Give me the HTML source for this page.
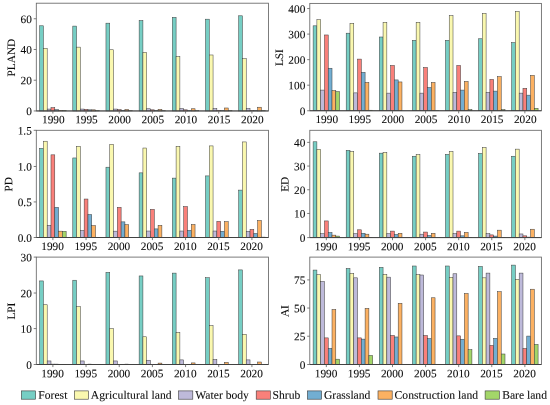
<!DOCTYPE html>
<html><head><meta charset="utf-8"><title>Landscape metrics</title>
<style>html,body{margin:0;padding:0;background:#fff}svg{display:block}</style></head>
<body>
<svg width="550" height="405" viewBox="0 0 550 405" font-family="'Liberation Serif', 'Times New Roman', serif" font-size="11.3" fill="#0a0a0a"><style>text{stroke:#0a0a0a;stroke-width:0.08px;text-rendering:geometricPrecision}</style>
<rect width="550" height="405" fill="#fff"/>
<g>
<rect x="39.62" y="25.79" width="3.79" height="85.16" fill="#76CEC4" stroke="#3a3a3a" stroke-width="0.5"/>
<rect x="43.41" y="48.37" width="3.79" height="62.58" fill="#FAF8AF" stroke="#3a3a3a" stroke-width="0.5"/>
<rect x="47.20" y="109.06" width="3.79" height="1.89" fill="#BEBADA" stroke="#3a3a3a" stroke-width="0.5"/>
<rect x="50.99" y="107.68" width="3.79" height="3.27" fill="#F9807A" stroke="#3a3a3a" stroke-width="0.5"/>
<rect x="54.78" y="109.68" width="3.79" height="1.27" fill="#72AED2" stroke="#3a3a3a" stroke-width="0.5"/>
<rect x="58.57" y="110.24" width="3.79" height="0.71" fill="#FCB162" stroke="#3a3a3a" stroke-width="0.35"/>
<rect x="62.36" y="110.39" width="3.79" height="0.56" fill="#A3D669" stroke="#3a3a3a" stroke-width="0.35"/>
<rect x="72.79" y="26.09" width="3.79" height="84.86" fill="#76CEC4" stroke="#3a3a3a" stroke-width="0.5"/>
<rect x="76.58" y="47.14" width="3.79" height="63.81" fill="#FAF8AF" stroke="#3a3a3a" stroke-width="0.5"/>
<rect x="80.37" y="109.06" width="3.79" height="1.89" fill="#BEBADA" stroke="#3a3a3a" stroke-width="0.5"/>
<rect x="84.16" y="109.37" width="3.79" height="1.58" fill="#F9807A" stroke="#3a3a3a" stroke-width="0.5"/>
<rect x="87.95" y="109.83" width="3.79" height="1.12" fill="#72AED2" stroke="#3a3a3a" stroke-width="0.5"/>
<rect x="91.74" y="109.83" width="3.79" height="1.12" fill="#FCB162" stroke="#3a3a3a" stroke-width="0.5"/>
<rect x="95.53" y="110.70" width="3.79" height="0.25" fill="#A3D669" stroke="#3a3a3a" stroke-width="0.35"/>
<rect x="105.96" y="23.17" width="3.79" height="87.78" fill="#76CEC4" stroke="#3a3a3a" stroke-width="0.5"/>
<rect x="109.75" y="49.76" width="3.79" height="61.19" fill="#FAF8AF" stroke="#3a3a3a" stroke-width="0.5"/>
<rect x="113.54" y="109.06" width="3.79" height="1.89" fill="#BEBADA" stroke="#3a3a3a" stroke-width="0.5"/>
<rect x="117.33" y="109.68" width="3.79" height="1.27" fill="#F9807A" stroke="#3a3a3a" stroke-width="0.5"/>
<rect x="121.12" y="110.24" width="3.79" height="0.71" fill="#72AED2" stroke="#3a3a3a" stroke-width="0.35"/>
<rect x="124.92" y="109.52" width="3.79" height="1.43" fill="#FCB162" stroke="#3a3a3a" stroke-width="0.5"/>
<rect x="128.71" y="110.77" width="3.79" height="0.18" fill="#A3D669" stroke="#3a3a3a" stroke-width="0.35"/>
<rect x="139.13" y="20.56" width="3.79" height="90.39" fill="#76CEC4" stroke="#3a3a3a" stroke-width="0.5"/>
<rect x="142.92" y="52.37" width="3.79" height="58.58" fill="#FAF8AF" stroke="#3a3a3a" stroke-width="0.5"/>
<rect x="146.71" y="108.76" width="3.79" height="2.19" fill="#BEBADA" stroke="#3a3a3a" stroke-width="0.5"/>
<rect x="150.50" y="109.83" width="3.79" height="1.12" fill="#F9807A" stroke="#3a3a3a" stroke-width="0.5"/>
<rect x="154.30" y="110.39" width="3.79" height="0.56" fill="#72AED2" stroke="#3a3a3a" stroke-width="0.35"/>
<rect x="158.09" y="109.37" width="3.79" height="1.58" fill="#FCB162" stroke="#3a3a3a" stroke-width="0.5"/>
<rect x="161.88" y="110.77" width="3.79" height="0.18" fill="#A3D669" stroke="#3a3a3a" stroke-width="0.35"/>
<rect x="172.30" y="17.34" width="3.79" height="93.61" fill="#76CEC4" stroke="#3a3a3a" stroke-width="0.5"/>
<rect x="176.09" y="56.52" width="3.79" height="54.43" fill="#FAF8AF" stroke="#3a3a3a" stroke-width="0.5"/>
<rect x="179.88" y="108.60" width="3.79" height="2.35" fill="#BEBADA" stroke="#3a3a3a" stroke-width="0.5"/>
<rect x="183.68" y="109.83" width="3.79" height="1.12" fill="#F9807A" stroke="#3a3a3a" stroke-width="0.5"/>
<rect x="187.47" y="110.39" width="3.79" height="0.56" fill="#72AED2" stroke="#3a3a3a" stroke-width="0.35"/>
<rect x="191.26" y="108.76" width="3.79" height="2.19" fill="#FCB162" stroke="#3a3a3a" stroke-width="0.5"/>
<rect x="195.05" y="110.70" width="3.79" height="0.25" fill="#A3D669" stroke="#3a3a3a" stroke-width="0.35"/>
<rect x="205.47" y="19.18" width="3.79" height="91.77" fill="#76CEC4" stroke="#3a3a3a" stroke-width="0.5"/>
<rect x="209.27" y="54.98" width="3.79" height="55.97" fill="#FAF8AF" stroke="#3a3a3a" stroke-width="0.5"/>
<rect x="213.06" y="108.60" width="3.79" height="2.35" fill="#BEBADA" stroke="#3a3a3a" stroke-width="0.5"/>
<rect x="216.85" y="110.39" width="3.79" height="0.56" fill="#F9807A" stroke="#3a3a3a" stroke-width="0.35"/>
<rect x="220.64" y="110.39" width="3.79" height="0.56" fill="#72AED2" stroke="#3a3a3a" stroke-width="0.35"/>
<rect x="224.43" y="107.99" width="3.79" height="2.96" fill="#FCB162" stroke="#3a3a3a" stroke-width="0.5"/>
<rect x="228.22" y="110.70" width="3.79" height="0.25" fill="#A3D669" stroke="#3a3a3a" stroke-width="0.35"/>
<rect x="238.65" y="15.80" width="3.79" height="95.15" fill="#76CEC4" stroke="#3a3a3a" stroke-width="0.5"/>
<rect x="242.44" y="58.67" width="3.79" height="52.28" fill="#FAF8AF" stroke="#3a3a3a" stroke-width="0.5"/>
<rect x="246.23" y="108.45" width="3.79" height="2.50" fill="#BEBADA" stroke="#3a3a3a" stroke-width="0.5"/>
<rect x="250.02" y="110.54" width="3.79" height="0.41" fill="#F9807A" stroke="#3a3a3a" stroke-width="0.35"/>
<rect x="253.81" y="110.54" width="3.79" height="0.41" fill="#72AED2" stroke="#3a3a3a" stroke-width="0.35"/>
<rect x="257.60" y="107.22" width="3.79" height="3.73" fill="#FCB162" stroke="#3a3a3a" stroke-width="0.5"/>
<rect x="261.39" y="110.70" width="3.79" height="0.25" fill="#A3D669" stroke="#3a3a3a" stroke-width="0.35"/>
<rect x="36.3" y="3.2" width="232.20" height="107.75" fill="none" stroke="#666" stroke-width="0.85"/>
<line x1="36.3" y1="110.95" x2="268.5" y2="110.95" stroke="#333" stroke-width="0.8"/>
<line x1="33.70" y1="110.95" x2="36.3" y2="110.95" stroke="#666" stroke-width="0.85"/>
<text x="31.80" y="115.10" transform="rotate(0.04 31.80 115.10)" text-anchor="end">0</text>
<line x1="33.70" y1="80.22" x2="36.3" y2="80.22" stroke="#666" stroke-width="0.85"/>
<text x="31.80" y="84.37" transform="rotate(0.04 31.80 84.37)" text-anchor="end">20</text>
<line x1="33.70" y1="49.49" x2="36.3" y2="49.49" stroke="#666" stroke-width="0.85"/>
<text x="31.80" y="53.64" transform="rotate(0.04 31.80 53.64)" text-anchor="end">40</text>
<line x1="33.70" y1="18.76" x2="36.3" y2="18.76" stroke="#666" stroke-width="0.85"/>
<text x="31.80" y="22.91" transform="rotate(0.04 31.80 22.91)" text-anchor="end">60</text>
<line x1="52.89" y1="110.94999999999999" x2="52.89" y2="113.55" stroke="#666" stroke-width="0.85"/>
<text x="53.29" y="123.20" transform="rotate(0.04 52.89 123.20)" text-anchor="middle">1990</text>
<line x1="86.06" y1="110.94999999999999" x2="86.06" y2="113.55" stroke="#666" stroke-width="0.85"/>
<text x="86.46" y="123.20" transform="rotate(0.04 86.06 123.20)" text-anchor="middle">1995</text>
<line x1="119.23" y1="110.94999999999999" x2="119.23" y2="113.55" stroke="#666" stroke-width="0.85"/>
<text x="119.63" y="123.20" transform="rotate(0.04 119.23 123.20)" text-anchor="middle">2000</text>
<line x1="152.40" y1="110.94999999999999" x2="152.40" y2="113.55" stroke="#666" stroke-width="0.85"/>
<text x="152.80" y="123.20" transform="rotate(0.04 152.40 123.20)" text-anchor="middle">2005</text>
<line x1="185.57" y1="110.94999999999999" x2="185.57" y2="113.55" stroke="#666" stroke-width="0.85"/>
<text x="185.97" y="123.20" transform="rotate(0.04 185.57 123.20)" text-anchor="middle">2010</text>
<line x1="218.74" y1="110.94999999999999" x2="218.74" y2="113.55" stroke="#666" stroke-width="0.85"/>
<text x="219.14" y="123.20" transform="rotate(0.04 218.74 123.20)" text-anchor="middle">2015</text>
<line x1="251.91" y1="110.94999999999999" x2="251.91" y2="113.55" stroke="#666" stroke-width="0.85"/>
<text x="252.31" y="123.20" transform="rotate(0.04 251.91 123.20)" text-anchor="middle">2020</text>
<text transform="translate(15.0,57.60) rotate(-89.96)" text-anchor="middle">PLAND</text>
</g>
<g>
<rect x="313.11" y="25.83" width="3.78" height="84.92" fill="#76CEC4" stroke="#3a3a3a" stroke-width="0.5"/>
<rect x="316.89" y="19.73" width="3.78" height="91.02" fill="#FAF8AF" stroke="#3a3a3a" stroke-width="0.5"/>
<rect x="320.67" y="90.08" width="3.78" height="20.67" fill="#BEBADA" stroke="#3a3a3a" stroke-width="0.5"/>
<rect x="324.45" y="34.97" width="3.78" height="75.78" fill="#F9807A" stroke="#3a3a3a" stroke-width="0.5"/>
<rect x="328.23" y="68.24" width="3.78" height="42.51" fill="#72AED2" stroke="#3a3a3a" stroke-width="0.5"/>
<rect x="332.01" y="90.59" width="3.78" height="20.16" fill="#FCB162" stroke="#3a3a3a" stroke-width="0.5"/>
<rect x="335.80" y="91.61" width="3.78" height="19.14" fill="#A3D669" stroke="#3a3a3a" stroke-width="0.5"/>
<rect x="346.19" y="33.19" width="3.78" height="77.56" fill="#76CEC4" stroke="#3a3a3a" stroke-width="0.5"/>
<rect x="349.98" y="23.29" width="3.78" height="87.46" fill="#FAF8AF" stroke="#3a3a3a" stroke-width="0.5"/>
<rect x="353.76" y="92.88" width="3.78" height="17.87" fill="#BEBADA" stroke="#3a3a3a" stroke-width="0.5"/>
<rect x="357.54" y="59.10" width="3.78" height="51.65" fill="#F9807A" stroke="#3a3a3a" stroke-width="0.5"/>
<rect x="361.32" y="72.30" width="3.78" height="38.45" fill="#72AED2" stroke="#3a3a3a" stroke-width="0.5"/>
<rect x="365.10" y="82.46" width="3.78" height="28.29" fill="#FCB162" stroke="#3a3a3a" stroke-width="0.5"/>
<rect x="368.88" y="110.14" width="3.78" height="0.61" fill="#A3D669" stroke="#3a3a3a" stroke-width="0.35"/>
<rect x="379.28" y="37.00" width="3.78" height="73.75" fill="#76CEC4" stroke="#3a3a3a" stroke-width="0.5"/>
<rect x="383.06" y="22.27" width="3.78" height="88.48" fill="#FAF8AF" stroke="#3a3a3a" stroke-width="0.5"/>
<rect x="386.84" y="93.13" width="3.78" height="17.62" fill="#BEBADA" stroke="#3a3a3a" stroke-width="0.5"/>
<rect x="390.62" y="65.45" width="3.78" height="45.30" fill="#F9807A" stroke="#3a3a3a" stroke-width="0.5"/>
<rect x="394.40" y="79.92" width="3.78" height="30.83" fill="#72AED2" stroke="#3a3a3a" stroke-width="0.5"/>
<rect x="398.19" y="81.95" width="3.78" height="28.80" fill="#FCB162" stroke="#3a3a3a" stroke-width="0.5"/>
<rect x="412.37" y="40.30" width="3.78" height="70.45" fill="#76CEC4" stroke="#3a3a3a" stroke-width="0.5"/>
<rect x="416.15" y="22.27" width="3.78" height="88.48" fill="#FAF8AF" stroke="#3a3a3a" stroke-width="0.5"/>
<rect x="419.93" y="93.13" width="3.78" height="17.62" fill="#BEBADA" stroke="#3a3a3a" stroke-width="0.5"/>
<rect x="423.71" y="67.48" width="3.78" height="43.27" fill="#F9807A" stroke="#3a3a3a" stroke-width="0.5"/>
<rect x="427.49" y="87.54" width="3.78" height="23.21" fill="#72AED2" stroke="#3a3a3a" stroke-width="0.5"/>
<rect x="431.27" y="82.46" width="3.78" height="28.29" fill="#FCB162" stroke="#3a3a3a" stroke-width="0.5"/>
<rect x="435.05" y="110.40" width="3.78" height="0.35" fill="#A3D669" stroke="#3a3a3a" stroke-width="0.35"/>
<rect x="445.45" y="40.30" width="3.78" height="70.45" fill="#76CEC4" stroke="#3a3a3a" stroke-width="0.5"/>
<rect x="449.23" y="15.67" width="3.78" height="95.08" fill="#FAF8AF" stroke="#3a3a3a" stroke-width="0.5"/>
<rect x="453.01" y="92.37" width="3.78" height="18.38" fill="#BEBADA" stroke="#3a3a3a" stroke-width="0.5"/>
<rect x="456.80" y="65.45" width="3.78" height="45.30" fill="#F9807A" stroke="#3a3a3a" stroke-width="0.5"/>
<rect x="460.58" y="90.08" width="3.78" height="20.67" fill="#72AED2" stroke="#3a3a3a" stroke-width="0.5"/>
<rect x="464.36" y="81.45" width="3.78" height="29.30" fill="#FCB162" stroke="#3a3a3a" stroke-width="0.5"/>
<rect x="468.14" y="109.64" width="3.78" height="1.11" fill="#A3D669" stroke="#3a3a3a" stroke-width="0.5"/>
<rect x="478.54" y="38.78" width="3.78" height="71.97" fill="#76CEC4" stroke="#3a3a3a" stroke-width="0.5"/>
<rect x="482.32" y="13.38" width="3.78" height="97.37" fill="#FAF8AF" stroke="#3a3a3a" stroke-width="0.5"/>
<rect x="486.10" y="92.37" width="3.78" height="18.38" fill="#BEBADA" stroke="#3a3a3a" stroke-width="0.5"/>
<rect x="489.88" y="79.41" width="3.78" height="31.34" fill="#F9807A" stroke="#3a3a3a" stroke-width="0.5"/>
<rect x="493.66" y="91.10" width="3.78" height="19.65" fill="#72AED2" stroke="#3a3a3a" stroke-width="0.5"/>
<rect x="497.44" y="76.62" width="3.78" height="34.13" fill="#FCB162" stroke="#3a3a3a" stroke-width="0.5"/>
<rect x="501.22" y="109.64" width="3.78" height="1.11" fill="#A3D669" stroke="#3a3a3a" stroke-width="0.5"/>
<rect x="511.62" y="42.59" width="3.78" height="68.16" fill="#76CEC4" stroke="#3a3a3a" stroke-width="0.5"/>
<rect x="515.40" y="11.35" width="3.78" height="99.40" fill="#FAF8AF" stroke="#3a3a3a" stroke-width="0.5"/>
<rect x="519.19" y="93.13" width="3.78" height="17.62" fill="#BEBADA" stroke="#3a3a3a" stroke-width="0.5"/>
<rect x="522.97" y="88.30" width="3.78" height="22.45" fill="#F9807A" stroke="#3a3a3a" stroke-width="0.5"/>
<rect x="526.75" y="95.16" width="3.78" height="15.59" fill="#72AED2" stroke="#3a3a3a" stroke-width="0.5"/>
<rect x="530.53" y="75.35" width="3.78" height="35.40" fill="#FCB162" stroke="#3a3a3a" stroke-width="0.5"/>
<rect x="534.31" y="108.37" width="3.78" height="2.38" fill="#A3D669" stroke="#3a3a3a" stroke-width="0.5"/>
<rect x="309.8" y="3.4" width="231.60" height="107.35" fill="none" stroke="#666" stroke-width="0.85"/>
<line x1="309.8" y1="110.75" x2="541.4" y2="110.75" stroke="#333" stroke-width="0.8"/>
<line x1="307.20" y1="110.75" x2="309.8" y2="110.75" stroke="#666" stroke-width="0.85"/>
<text x="305.30" y="114.90" transform="rotate(0.04 305.30 114.90)" text-anchor="end">0</text>
<line x1="307.20" y1="85.20" x2="309.8" y2="85.20" stroke="#666" stroke-width="0.85"/>
<text x="305.30" y="89.35" transform="rotate(0.04 305.30 89.35)" text-anchor="end">100</text>
<line x1="307.20" y1="59.65" x2="309.8" y2="59.65" stroke="#666" stroke-width="0.85"/>
<text x="305.30" y="63.80" transform="rotate(0.04 305.30 63.80)" text-anchor="end">200</text>
<line x1="307.20" y1="34.10" x2="309.8" y2="34.10" stroke="#666" stroke-width="0.85"/>
<text x="305.30" y="38.25" transform="rotate(0.04 305.30 38.25)" text-anchor="end">300</text>
<line x1="307.20" y1="8.55" x2="309.8" y2="8.55" stroke="#666" stroke-width="0.85"/>
<text x="305.30" y="12.70" transform="rotate(0.04 305.30 12.70)" text-anchor="end">400</text>
<line x1="326.34" y1="110.75" x2="326.34" y2="113.35" stroke="#666" stroke-width="0.85"/>
<text x="326.74" y="123.00" transform="rotate(0.04 326.34 123.00)" text-anchor="middle">1990</text>
<line x1="359.43" y1="110.75" x2="359.43" y2="113.35" stroke="#666" stroke-width="0.85"/>
<text x="359.83" y="123.00" transform="rotate(0.04 359.43 123.00)" text-anchor="middle">1995</text>
<line x1="392.51" y1="110.75" x2="392.51" y2="113.35" stroke="#666" stroke-width="0.85"/>
<text x="392.91" y="123.00" transform="rotate(0.04 392.51 123.00)" text-anchor="middle">2000</text>
<line x1="425.60" y1="110.75" x2="425.60" y2="113.35" stroke="#666" stroke-width="0.85"/>
<text x="426.00" y="123.00" transform="rotate(0.04 425.60 123.00)" text-anchor="middle">2005</text>
<line x1="458.69" y1="110.75" x2="458.69" y2="113.35" stroke="#666" stroke-width="0.85"/>
<text x="459.09" y="123.00" transform="rotate(0.04 458.69 123.00)" text-anchor="middle">2010</text>
<line x1="491.77" y1="110.75" x2="491.77" y2="113.35" stroke="#666" stroke-width="0.85"/>
<text x="492.17" y="123.00" transform="rotate(0.04 491.77 123.00)" text-anchor="middle">2015</text>
<line x1="524.86" y1="110.75" x2="524.86" y2="113.35" stroke="#666" stroke-width="0.85"/>
<text x="525.26" y="123.00" transform="rotate(0.04 524.86 123.00)" text-anchor="middle">2020</text>
<text transform="translate(282.9,57.60) rotate(-89.96)" text-anchor="middle">LSI</text>
</g>
<g>
<rect x="39.62" y="148.32" width="3.79" height="89.18" fill="#76CEC4" stroke="#3a3a3a" stroke-width="0.5"/>
<rect x="43.41" y="141.22" width="3.79" height="96.28" fill="#FAF8AF" stroke="#3a3a3a" stroke-width="0.5"/>
<rect x="47.20" y="225.28" width="3.79" height="12.22" fill="#BEBADA" stroke="#3a3a3a" stroke-width="0.5"/>
<rect x="50.99" y="154.84" width="3.79" height="82.66" fill="#F9807A" stroke="#3a3a3a" stroke-width="0.5"/>
<rect x="54.78" y="207.33" width="3.79" height="30.17" fill="#72AED2" stroke="#3a3a3a" stroke-width="0.5"/>
<rect x="58.57" y="231.17" width="3.79" height="6.33" fill="#FCB162" stroke="#3a3a3a" stroke-width="0.5"/>
<rect x="62.36" y="231.38" width="3.79" height="6.12" fill="#A3D669" stroke="#3a3a3a" stroke-width="0.5"/>
<rect x="72.79" y="157.96" width="3.79" height="79.54" fill="#76CEC4" stroke="#3a3a3a" stroke-width="0.5"/>
<rect x="76.58" y="146.26" width="3.79" height="91.24" fill="#FAF8AF" stroke="#3a3a3a" stroke-width="0.5"/>
<rect x="80.37" y="230.53" width="3.79" height="6.97" fill="#BEBADA" stroke="#3a3a3a" stroke-width="0.5"/>
<rect x="84.16" y="199.03" width="3.79" height="38.47" fill="#F9807A" stroke="#3a3a3a" stroke-width="0.5"/>
<rect x="87.95" y="214.50" width="3.79" height="23.00" fill="#72AED2" stroke="#3a3a3a" stroke-width="0.5"/>
<rect x="91.74" y="225.56" width="3.79" height="11.94" fill="#FCB162" stroke="#3a3a3a" stroke-width="0.5"/>
<rect x="95.53" y="237.19" width="3.79" height="0.31" fill="#A3D669" stroke="#3a3a3a" stroke-width="0.35"/>
<rect x="105.96" y="167.19" width="3.79" height="70.31" fill="#76CEC4" stroke="#3a3a3a" stroke-width="0.5"/>
<rect x="109.75" y="144.34" width="3.79" height="93.16" fill="#FAF8AF" stroke="#3a3a3a" stroke-width="0.5"/>
<rect x="113.54" y="231.17" width="3.79" height="6.33" fill="#BEBADA" stroke="#3a3a3a" stroke-width="0.5"/>
<rect x="117.33" y="207.33" width="3.79" height="30.17" fill="#F9807A" stroke="#3a3a3a" stroke-width="0.5"/>
<rect x="121.12" y="221.87" width="3.79" height="15.63" fill="#72AED2" stroke="#3a3a3a" stroke-width="0.5"/>
<rect x="124.92" y="224.64" width="3.79" height="12.86" fill="#FCB162" stroke="#3a3a3a" stroke-width="0.5"/>
<rect x="139.13" y="172.86" width="3.79" height="64.64" fill="#76CEC4" stroke="#3a3a3a" stroke-width="0.5"/>
<rect x="142.92" y="148.03" width="3.79" height="89.47" fill="#FAF8AF" stroke="#3a3a3a" stroke-width="0.5"/>
<rect x="146.71" y="231.03" width="3.79" height="6.47" fill="#BEBADA" stroke="#3a3a3a" stroke-width="0.5"/>
<rect x="150.50" y="209.32" width="3.79" height="28.18" fill="#F9807A" stroke="#3a3a3a" stroke-width="0.5"/>
<rect x="154.30" y="228.90" width="3.79" height="8.60" fill="#72AED2" stroke="#3a3a3a" stroke-width="0.5"/>
<rect x="158.09" y="225.35" width="3.79" height="12.15" fill="#FCB162" stroke="#3a3a3a" stroke-width="0.5"/>
<rect x="172.30" y="178.11" width="3.79" height="59.39" fill="#76CEC4" stroke="#3a3a3a" stroke-width="0.5"/>
<rect x="176.09" y="146.26" width="3.79" height="91.24" fill="#FAF8AF" stroke="#3a3a3a" stroke-width="0.5"/>
<rect x="179.88" y="231.03" width="3.79" height="6.47" fill="#BEBADA" stroke="#3a3a3a" stroke-width="0.5"/>
<rect x="183.68" y="206.55" width="3.79" height="30.95" fill="#F9807A" stroke="#3a3a3a" stroke-width="0.5"/>
<rect x="187.47" y="230.32" width="3.79" height="7.18" fill="#72AED2" stroke="#3a3a3a" stroke-width="0.5"/>
<rect x="191.26" y="224.50" width="3.79" height="13.00" fill="#FCB162" stroke="#3a3a3a" stroke-width="0.5"/>
<rect x="195.05" y="237.19" width="3.79" height="0.31" fill="#A3D669" stroke="#3a3a3a" stroke-width="0.35"/>
<rect x="205.47" y="175.91" width="3.79" height="61.59" fill="#76CEC4" stroke="#3a3a3a" stroke-width="0.5"/>
<rect x="209.27" y="145.91" width="3.79" height="91.59" fill="#FAF8AF" stroke="#3a3a3a" stroke-width="0.5"/>
<rect x="213.06" y="231.03" width="3.79" height="6.47" fill="#BEBADA" stroke="#3a3a3a" stroke-width="0.5"/>
<rect x="216.85" y="221.38" width="3.79" height="16.12" fill="#F9807A" stroke="#3a3a3a" stroke-width="0.5"/>
<rect x="220.64" y="231.24" width="3.79" height="6.26" fill="#72AED2" stroke="#3a3a3a" stroke-width="0.5"/>
<rect x="224.43" y="221.66" width="3.79" height="15.84" fill="#FCB162" stroke="#3a3a3a" stroke-width="0.5"/>
<rect x="228.22" y="237.19" width="3.79" height="0.31" fill="#A3D669" stroke="#3a3a3a" stroke-width="0.35"/>
<rect x="238.65" y="190.10" width="3.79" height="47.40" fill="#76CEC4" stroke="#3a3a3a" stroke-width="0.5"/>
<rect x="242.44" y="141.93" width="3.79" height="95.57" fill="#FAF8AF" stroke="#3a3a3a" stroke-width="0.5"/>
<rect x="246.23" y="231.24" width="3.79" height="6.26" fill="#BEBADA" stroke="#3a3a3a" stroke-width="0.5"/>
<rect x="250.02" y="229.39" width="3.79" height="8.11" fill="#F9807A" stroke="#3a3a3a" stroke-width="0.5"/>
<rect x="253.81" y="233.44" width="3.79" height="4.06" fill="#72AED2" stroke="#3a3a3a" stroke-width="0.5"/>
<rect x="257.60" y="220.46" width="3.79" height="17.04" fill="#FCB162" stroke="#3a3a3a" stroke-width="0.5"/>
<rect x="261.39" y="237.05" width="3.79" height="0.45" fill="#A3D669" stroke="#3a3a3a" stroke-width="0.35"/>
<rect x="36.3" y="130.3" width="232.20" height="107.20" fill="none" stroke="#666" stroke-width="0.85"/>
<line x1="36.3" y1="237.50" x2="268.5" y2="237.50" stroke="#333" stroke-width="0.8"/>
<line x1="33.70" y1="237.50" x2="36.3" y2="237.50" stroke="#666" stroke-width="0.85"/>
<text x="31.80" y="241.65" transform="rotate(0.04 31.80 241.65)" text-anchor="end">0.0</text>
<line x1="33.70" y1="201.93" x2="36.3" y2="201.93" stroke="#666" stroke-width="0.85"/>
<text x="31.80" y="206.08" transform="rotate(0.04 31.80 206.08)" text-anchor="end">0.5</text>
<line x1="33.70" y1="166.47" x2="36.3" y2="166.47" stroke="#666" stroke-width="0.85"/>
<text x="31.80" y="170.62" transform="rotate(0.04 31.80 170.62)" text-anchor="end">1.0</text>
<line x1="33.70" y1="130.30" x2="36.3" y2="130.30" stroke="#666" stroke-width="0.85"/>
<text x="31.80" y="134.45" transform="rotate(0.04 31.80 134.45)" text-anchor="end">1.5</text>
<line x1="52.89" y1="237.5" x2="52.89" y2="240.10" stroke="#666" stroke-width="0.85"/>
<text x="52.59" y="250.10" transform="rotate(0.04 52.89 250.10)" text-anchor="middle">1990</text>
<line x1="86.06" y1="237.5" x2="86.06" y2="240.10" stroke="#666" stroke-width="0.85"/>
<text x="85.76" y="250.10" transform="rotate(0.04 86.06 250.10)" text-anchor="middle">1995</text>
<line x1="119.23" y1="237.5" x2="119.23" y2="240.10" stroke="#666" stroke-width="0.85"/>
<text x="118.93" y="250.10" transform="rotate(0.04 119.23 250.10)" text-anchor="middle">2000</text>
<line x1="152.40" y1="237.5" x2="152.40" y2="240.10" stroke="#666" stroke-width="0.85"/>
<text x="152.10" y="250.10" transform="rotate(0.04 152.40 250.10)" text-anchor="middle">2005</text>
<line x1="185.57" y1="237.5" x2="185.57" y2="240.10" stroke="#666" stroke-width="0.85"/>
<text x="185.27" y="250.10" transform="rotate(0.04 185.57 250.10)" text-anchor="middle">2010</text>
<line x1="218.74" y1="237.5" x2="218.74" y2="240.10" stroke="#666" stroke-width="0.85"/>
<text x="218.44" y="250.10" transform="rotate(0.04 218.74 250.10)" text-anchor="middle">2015</text>
<line x1="251.91" y1="237.5" x2="251.91" y2="240.10" stroke="#666" stroke-width="0.85"/>
<text x="251.61" y="250.10" transform="rotate(0.04 251.91 250.10)" text-anchor="middle">2020</text>
<text transform="translate(12.3,184.20) rotate(-89.96)" text-anchor="middle">PD</text>
</g>
<g>
<rect x="313.11" y="141.79" width="3.78" height="95.81" fill="#76CEC4" stroke="#3a3a3a" stroke-width="0.5"/>
<rect x="316.89" y="149.37" width="3.78" height="88.23" fill="#FAF8AF" stroke="#3a3a3a" stroke-width="0.5"/>
<rect x="320.67" y="233.72" width="3.78" height="3.88" fill="#BEBADA" stroke="#3a3a3a" stroke-width="0.5"/>
<rect x="324.45" y="220.93" width="3.78" height="16.67" fill="#F9807A" stroke="#3a3a3a" stroke-width="0.5"/>
<rect x="328.23" y="232.54" width="3.78" height="5.06" fill="#72AED2" stroke="#3a3a3a" stroke-width="0.5"/>
<rect x="332.01" y="235.14" width="3.78" height="2.46" fill="#FCB162" stroke="#3a3a3a" stroke-width="0.5"/>
<rect x="335.80" y="236.09" width="3.78" height="1.51" fill="#A3D669" stroke="#3a3a3a" stroke-width="0.5"/>
<rect x="346.19" y="150.32" width="3.78" height="87.28" fill="#76CEC4" stroke="#3a3a3a" stroke-width="0.5"/>
<rect x="349.98" y="151.51" width="3.78" height="86.09" fill="#FAF8AF" stroke="#3a3a3a" stroke-width="0.5"/>
<rect x="353.76" y="233.72" width="3.78" height="3.88" fill="#BEBADA" stroke="#3a3a3a" stroke-width="0.5"/>
<rect x="357.54" y="229.81" width="3.78" height="7.79" fill="#F9807A" stroke="#3a3a3a" stroke-width="0.5"/>
<rect x="361.32" y="233.25" width="3.78" height="4.35" fill="#72AED2" stroke="#3a3a3a" stroke-width="0.5"/>
<rect x="365.10" y="234.19" width="3.78" height="3.41" fill="#FCB162" stroke="#3a3a3a" stroke-width="0.5"/>
<rect x="368.88" y="237.38" width="3.78" height="0.22" fill="#A3D669" stroke="#3a3a3a" stroke-width="0.35"/>
<rect x="379.28" y="153.16" width="3.78" height="84.44" fill="#76CEC4" stroke="#3a3a3a" stroke-width="0.5"/>
<rect x="383.06" y="152.45" width="3.78" height="85.15" fill="#FAF8AF" stroke="#3a3a3a" stroke-width="0.5"/>
<rect x="386.84" y="233.72" width="3.78" height="3.88" fill="#BEBADA" stroke="#3a3a3a" stroke-width="0.5"/>
<rect x="390.62" y="231.11" width="3.78" height="6.49" fill="#F9807A" stroke="#3a3a3a" stroke-width="0.5"/>
<rect x="394.40" y="234.43" width="3.78" height="3.17" fill="#72AED2" stroke="#3a3a3a" stroke-width="0.5"/>
<rect x="398.19" y="233.25" width="3.78" height="4.35" fill="#FCB162" stroke="#3a3a3a" stroke-width="0.5"/>
<rect x="412.37" y="156.24" width="3.78" height="81.36" fill="#76CEC4" stroke="#3a3a3a" stroke-width="0.5"/>
<rect x="416.15" y="154.59" width="3.78" height="83.01" fill="#FAF8AF" stroke="#3a3a3a" stroke-width="0.5"/>
<rect x="419.93" y="234.19" width="3.78" height="3.41" fill="#BEBADA" stroke="#3a3a3a" stroke-width="0.5"/>
<rect x="423.71" y="232.06" width="3.78" height="5.54" fill="#F9807A" stroke="#3a3a3a" stroke-width="0.5"/>
<rect x="427.49" y="235.50" width="3.78" height="2.10" fill="#72AED2" stroke="#3a3a3a" stroke-width="0.5"/>
<rect x="431.27" y="233.25" width="3.78" height="4.35" fill="#FCB162" stroke="#3a3a3a" stroke-width="0.5"/>
<rect x="445.45" y="154.35" width="3.78" height="83.25" fill="#76CEC4" stroke="#3a3a3a" stroke-width="0.5"/>
<rect x="449.23" y="151.51" width="3.78" height="86.09" fill="#FAF8AF" stroke="#3a3a3a" stroke-width="0.5"/>
<rect x="453.01" y="233.72" width="3.78" height="3.88" fill="#BEBADA" stroke="#3a3a3a" stroke-width="0.5"/>
<rect x="456.80" y="231.11" width="3.78" height="6.49" fill="#F9807A" stroke="#3a3a3a" stroke-width="0.5"/>
<rect x="460.58" y="235.85" width="3.78" height="1.75" fill="#72AED2" stroke="#3a3a3a" stroke-width="0.5"/>
<rect x="464.36" y="232.42" width="3.78" height="5.18" fill="#FCB162" stroke="#3a3a3a" stroke-width="0.5"/>
<rect x="468.14" y="237.38" width="3.78" height="0.22" fill="#A3D669" stroke="#3a3a3a" stroke-width="0.35"/>
<rect x="478.54" y="153.40" width="3.78" height="84.20" fill="#76CEC4" stroke="#3a3a3a" stroke-width="0.5"/>
<rect x="482.32" y="147.48" width="3.78" height="90.12" fill="#FAF8AF" stroke="#3a3a3a" stroke-width="0.5"/>
<rect x="486.10" y="233.72" width="3.78" height="3.88" fill="#BEBADA" stroke="#3a3a3a" stroke-width="0.5"/>
<rect x="489.88" y="234.90" width="3.78" height="2.70" fill="#F9807A" stroke="#3a3a3a" stroke-width="0.5"/>
<rect x="493.66" y="236.09" width="3.78" height="1.51" fill="#72AED2" stroke="#3a3a3a" stroke-width="0.5"/>
<rect x="497.44" y="230.17" width="3.78" height="7.43" fill="#FCB162" stroke="#3a3a3a" stroke-width="0.5"/>
<rect x="501.22" y="237.38" width="3.78" height="0.22" fill="#A3D669" stroke="#3a3a3a" stroke-width="0.35"/>
<rect x="511.62" y="156.24" width="3.78" height="81.36" fill="#76CEC4" stroke="#3a3a3a" stroke-width="0.5"/>
<rect x="515.40" y="149.14" width="3.78" height="88.46" fill="#FAF8AF" stroke="#3a3a3a" stroke-width="0.5"/>
<rect x="519.19" y="233.96" width="3.78" height="3.64" fill="#BEBADA" stroke="#3a3a3a" stroke-width="0.5"/>
<rect x="522.97" y="235.85" width="3.78" height="1.75" fill="#F9807A" stroke="#3a3a3a" stroke-width="0.5"/>
<rect x="526.75" y="237.03" width="3.78" height="0.57" fill="#72AED2" stroke="#3a3a3a" stroke-width="0.35"/>
<rect x="530.53" y="229.22" width="3.78" height="8.38" fill="#FCB162" stroke="#3a3a3a" stroke-width="0.5"/>
<rect x="534.31" y="237.26" width="3.78" height="0.34" fill="#A3D669" stroke="#3a3a3a" stroke-width="0.35"/>
<rect x="309.8" y="130.3" width="231.60" height="107.30" fill="none" stroke="#666" stroke-width="0.85"/>
<line x1="309.8" y1="237.60" x2="541.4" y2="237.60" stroke="#333" stroke-width="0.8"/>
<line x1="307.20" y1="237.60" x2="309.8" y2="237.60" stroke="#666" stroke-width="0.85"/>
<text x="305.30" y="241.75" transform="rotate(0.04 305.30 241.75)" text-anchor="end">0</text>
<line x1="307.20" y1="213.46" x2="309.8" y2="213.46" stroke="#666" stroke-width="0.85"/>
<text x="305.30" y="217.61" transform="rotate(0.04 305.30 217.61)" text-anchor="end">10</text>
<line x1="307.20" y1="189.76" x2="309.8" y2="189.76" stroke="#666" stroke-width="0.85"/>
<text x="305.30" y="193.91" transform="rotate(0.04 305.30 193.91)" text-anchor="end">20</text>
<line x1="307.20" y1="166.07" x2="309.8" y2="166.07" stroke="#666" stroke-width="0.85"/>
<text x="305.30" y="170.22" transform="rotate(0.04 305.30 170.22)" text-anchor="end">30</text>
<line x1="307.20" y1="142.38" x2="309.8" y2="142.38" stroke="#666" stroke-width="0.85"/>
<text x="305.30" y="146.53" transform="rotate(0.04 305.30 146.53)" text-anchor="end">40</text>
<line x1="326.34" y1="237.60000000000002" x2="326.34" y2="240.20" stroke="#666" stroke-width="0.85"/>
<text x="326.04" y="250.20" transform="rotate(0.04 326.34 250.20)" text-anchor="middle">1990</text>
<line x1="359.43" y1="237.60000000000002" x2="359.43" y2="240.20" stroke="#666" stroke-width="0.85"/>
<text x="359.13" y="250.20" transform="rotate(0.04 359.43 250.20)" text-anchor="middle">1995</text>
<line x1="392.51" y1="237.60000000000002" x2="392.51" y2="240.20" stroke="#666" stroke-width="0.85"/>
<text x="392.21" y="250.20" transform="rotate(0.04 392.51 250.20)" text-anchor="middle">2000</text>
<line x1="425.60" y1="237.60000000000002" x2="425.60" y2="240.20" stroke="#666" stroke-width="0.85"/>
<text x="425.30" y="250.20" transform="rotate(0.04 425.60 250.20)" text-anchor="middle">2005</text>
<line x1="458.69" y1="237.60000000000002" x2="458.69" y2="240.20" stroke="#666" stroke-width="0.85"/>
<text x="458.39" y="250.20" transform="rotate(0.04 458.69 250.20)" text-anchor="middle">2010</text>
<line x1="491.77" y1="237.60000000000002" x2="491.77" y2="240.20" stroke="#666" stroke-width="0.85"/>
<text x="491.47" y="250.20" transform="rotate(0.04 491.77 250.20)" text-anchor="middle">2015</text>
<line x1="524.86" y1="237.60000000000002" x2="524.86" y2="240.20" stroke="#666" stroke-width="0.85"/>
<text x="524.56" y="250.20" transform="rotate(0.04 524.86 250.20)" text-anchor="middle">2020</text>
<text transform="translate(288.4,184.25) rotate(-89.96)" text-anchor="middle">ED</text>
</g>
<g>
<rect x="39.62" y="280.93" width="3.79" height="83.57" fill="#76CEC4" stroke="#3a3a3a" stroke-width="0.5"/>
<rect x="43.41" y="304.76" width="3.79" height="59.74" fill="#FAF8AF" stroke="#3a3a3a" stroke-width="0.5"/>
<rect x="47.20" y="360.95" width="3.79" height="3.55" fill="#BEBADA" stroke="#3a3a3a" stroke-width="0.5"/>
<rect x="50.99" y="364.04" width="3.79" height="0.46" fill="#F9807A" stroke="#3a3a3a" stroke-width="0.35"/>
<rect x="54.78" y="364.04" width="3.79" height="0.46" fill="#72AED2" stroke="#3a3a3a" stroke-width="0.35"/>
<rect x="58.57" y="364.22" width="3.79" height="0.28" fill="#FCB162" stroke="#3a3a3a" stroke-width="0.35"/>
<rect x="62.36" y="364.33" width="3.79" height="0.17" fill="#A3D669" stroke="#3a3a3a" stroke-width="0.35"/>
<rect x="72.79" y="280.22" width="3.79" height="84.28" fill="#76CEC4" stroke="#3a3a3a" stroke-width="0.5"/>
<rect x="76.58" y="306.54" width="3.79" height="57.96" fill="#FAF8AF" stroke="#3a3a3a" stroke-width="0.5"/>
<rect x="80.37" y="360.95" width="3.79" height="3.55" fill="#BEBADA" stroke="#3a3a3a" stroke-width="0.5"/>
<rect x="84.16" y="364.22" width="3.79" height="0.28" fill="#F9807A" stroke="#3a3a3a" stroke-width="0.35"/>
<rect x="87.95" y="364.04" width="3.79" height="0.46" fill="#72AED2" stroke="#3a3a3a" stroke-width="0.35"/>
<rect x="91.74" y="364.22" width="3.79" height="0.28" fill="#FCB162" stroke="#3a3a3a" stroke-width="0.35"/>
<rect x="105.96" y="272.39" width="3.79" height="92.11" fill="#76CEC4" stroke="#3a3a3a" stroke-width="0.5"/>
<rect x="109.75" y="328.59" width="3.79" height="35.91" fill="#FAF8AF" stroke="#3a3a3a" stroke-width="0.5"/>
<rect x="113.54" y="360.95" width="3.79" height="3.55" fill="#BEBADA" stroke="#3a3a3a" stroke-width="0.5"/>
<rect x="117.33" y="364.22" width="3.79" height="0.28" fill="#F9807A" stroke="#3a3a3a" stroke-width="0.35"/>
<rect x="121.12" y="364.22" width="3.79" height="0.28" fill="#72AED2" stroke="#3a3a3a" stroke-width="0.35"/>
<rect x="124.92" y="364.04" width="3.79" height="0.46" fill="#FCB162" stroke="#3a3a3a" stroke-width="0.35"/>
<rect x="139.13" y="275.95" width="3.79" height="88.55" fill="#76CEC4" stroke="#3a3a3a" stroke-width="0.5"/>
<rect x="142.92" y="336.77" width="3.79" height="27.73" fill="#FAF8AF" stroke="#3a3a3a" stroke-width="0.5"/>
<rect x="146.71" y="360.24" width="3.79" height="4.26" fill="#BEBADA" stroke="#3a3a3a" stroke-width="0.5"/>
<rect x="150.50" y="364.22" width="3.79" height="0.28" fill="#F9807A" stroke="#3a3a3a" stroke-width="0.35"/>
<rect x="154.30" y="364.22" width="3.79" height="0.28" fill="#72AED2" stroke="#3a3a3a" stroke-width="0.35"/>
<rect x="158.09" y="363.09" width="3.79" height="1.41" fill="#FCB162" stroke="#3a3a3a" stroke-width="0.5"/>
<rect x="172.30" y="273.11" width="3.79" height="91.39" fill="#76CEC4" stroke="#3a3a3a" stroke-width="0.5"/>
<rect x="176.09" y="332.50" width="3.79" height="32.00" fill="#FAF8AF" stroke="#3a3a3a" stroke-width="0.5"/>
<rect x="179.88" y="359.89" width="3.79" height="4.61" fill="#BEBADA" stroke="#3a3a3a" stroke-width="0.5"/>
<rect x="183.68" y="364.22" width="3.79" height="0.28" fill="#F9807A" stroke="#3a3a3a" stroke-width="0.35"/>
<rect x="187.47" y="364.22" width="3.79" height="0.28" fill="#72AED2" stroke="#3a3a3a" stroke-width="0.35"/>
<rect x="191.26" y="362.91" width="3.79" height="1.59" fill="#FCB162" stroke="#3a3a3a" stroke-width="0.5"/>
<rect x="205.47" y="277.73" width="3.79" height="86.77" fill="#76CEC4" stroke="#3a3a3a" stroke-width="0.5"/>
<rect x="209.27" y="325.74" width="3.79" height="38.76" fill="#FAF8AF" stroke="#3a3a3a" stroke-width="0.5"/>
<rect x="213.06" y="359.53" width="3.79" height="4.97" fill="#BEBADA" stroke="#3a3a3a" stroke-width="0.5"/>
<rect x="216.85" y="364.29" width="3.79" height="0.21" fill="#F9807A" stroke="#3a3a3a" stroke-width="0.35"/>
<rect x="220.64" y="364.22" width="3.79" height="0.28" fill="#72AED2" stroke="#3a3a3a" stroke-width="0.35"/>
<rect x="224.43" y="362.38" width="3.79" height="2.12" fill="#FCB162" stroke="#3a3a3a" stroke-width="0.5"/>
<rect x="238.65" y="269.90" width="3.79" height="94.60" fill="#76CEC4" stroke="#3a3a3a" stroke-width="0.5"/>
<rect x="242.44" y="334.28" width="3.79" height="30.22" fill="#FAF8AF" stroke="#3a3a3a" stroke-width="0.5"/>
<rect x="246.23" y="359.89" width="3.79" height="4.61" fill="#BEBADA" stroke="#3a3a3a" stroke-width="0.5"/>
<rect x="250.02" y="364.29" width="3.79" height="0.21" fill="#F9807A" stroke="#3a3a3a" stroke-width="0.35"/>
<rect x="253.81" y="364.29" width="3.79" height="0.21" fill="#72AED2" stroke="#3a3a3a" stroke-width="0.35"/>
<rect x="257.60" y="362.02" width="3.79" height="2.48" fill="#FCB162" stroke="#3a3a3a" stroke-width="0.5"/>
<rect x="36.3" y="257.1" width="232.20" height="107.40" fill="none" stroke="#666" stroke-width="0.85"/>
<line x1="36.3" y1="364.50" x2="268.5" y2="364.50" stroke="#333" stroke-width="0.8"/>
<line x1="33.70" y1="364.50" x2="36.3" y2="364.50" stroke="#666" stroke-width="0.85"/>
<text x="31.80" y="368.65" transform="rotate(0.04 31.80 368.65)" text-anchor="end">0</text>
<line x1="33.70" y1="328.58" x2="36.3" y2="328.58" stroke="#666" stroke-width="0.85"/>
<text x="31.80" y="332.73" transform="rotate(0.04 31.80 332.73)" text-anchor="end">10</text>
<line x1="33.70" y1="293.02" x2="36.3" y2="293.02" stroke="#666" stroke-width="0.85"/>
<text x="31.80" y="297.17" transform="rotate(0.04 31.80 297.17)" text-anchor="end">20</text>
<line x1="33.70" y1="257.10" x2="36.3" y2="257.10" stroke="#666" stroke-width="0.85"/>
<text x="31.80" y="261.25" transform="rotate(0.04 31.80 261.25)" text-anchor="end">30</text>
<line x1="52.89" y1="364.5" x2="52.89" y2="367.10" stroke="#666" stroke-width="0.85"/>
<text x="52.59" y="377.20" transform="rotate(0.04 52.89 377.20)" text-anchor="middle">1990</text>
<line x1="86.06" y1="364.5" x2="86.06" y2="367.10" stroke="#666" stroke-width="0.85"/>
<text x="85.76" y="377.20" transform="rotate(0.04 86.06 377.20)" text-anchor="middle">1995</text>
<line x1="119.23" y1="364.5" x2="119.23" y2="367.10" stroke="#666" stroke-width="0.85"/>
<text x="118.93" y="377.20" transform="rotate(0.04 119.23 377.20)" text-anchor="middle">2000</text>
<line x1="152.40" y1="364.5" x2="152.40" y2="367.10" stroke="#666" stroke-width="0.85"/>
<text x="152.10" y="377.20" transform="rotate(0.04 152.40 377.20)" text-anchor="middle">2005</text>
<line x1="185.57" y1="364.5" x2="185.57" y2="367.10" stroke="#666" stroke-width="0.85"/>
<text x="185.27" y="377.20" transform="rotate(0.04 185.57 377.20)" text-anchor="middle">2010</text>
<line x1="218.74" y1="364.5" x2="218.74" y2="367.10" stroke="#666" stroke-width="0.85"/>
<text x="218.44" y="377.20" transform="rotate(0.04 218.74 377.20)" text-anchor="middle">2015</text>
<line x1="251.91" y1="364.5" x2="251.91" y2="367.10" stroke="#666" stroke-width="0.85"/>
<text x="251.61" y="377.20" transform="rotate(0.04 251.91 377.20)" text-anchor="middle">2020</text>
<text transform="translate(14.9,311.15) rotate(-89.96)" text-anchor="middle">LPI</text>
</g>
<g>
<rect x="313.11" y="270.06" width="3.78" height="94.44" fill="#76CEC4" stroke="#3a3a3a" stroke-width="0.5"/>
<rect x="316.89" y="274.68" width="3.78" height="89.82" fill="#FAF8AF" stroke="#3a3a3a" stroke-width="0.5"/>
<rect x="320.67" y="281.55" width="3.78" height="82.95" fill="#BEBADA" stroke="#3a3a3a" stroke-width="0.5"/>
<rect x="324.45" y="337.89" width="3.78" height="26.61" fill="#F9807A" stroke="#3a3a3a" stroke-width="0.5"/>
<rect x="328.23" y="348.36" width="3.78" height="16.14" fill="#72AED2" stroke="#3a3a3a" stroke-width="0.5"/>
<rect x="332.01" y="309.49" width="3.78" height="55.01" fill="#FCB162" stroke="#3a3a3a" stroke-width="0.5"/>
<rect x="335.80" y="359.18" width="3.78" height="5.32" fill="#A3D669" stroke="#3a3a3a" stroke-width="0.5"/>
<rect x="346.19" y="268.48" width="3.78" height="96.02" fill="#76CEC4" stroke="#3a3a3a" stroke-width="0.5"/>
<rect x="349.98" y="273.44" width="3.78" height="91.06" fill="#FAF8AF" stroke="#3a3a3a" stroke-width="0.5"/>
<rect x="353.76" y="277.83" width="3.78" height="86.67" fill="#BEBADA" stroke="#3a3a3a" stroke-width="0.5"/>
<rect x="357.54" y="337.89" width="3.78" height="26.61" fill="#F9807A" stroke="#3a3a3a" stroke-width="0.5"/>
<rect x="361.32" y="339.12" width="3.78" height="25.38" fill="#72AED2" stroke="#3a3a3a" stroke-width="0.5"/>
<rect x="365.10" y="308.37" width="3.78" height="56.13" fill="#FCB162" stroke="#3a3a3a" stroke-width="0.5"/>
<rect x="368.88" y="355.46" width="3.78" height="9.04" fill="#A3D669" stroke="#3a3a3a" stroke-width="0.5"/>
<rect x="379.28" y="267.35" width="3.78" height="97.15" fill="#76CEC4" stroke="#3a3a3a" stroke-width="0.5"/>
<rect x="383.06" y="274.45" width="3.78" height="90.05" fill="#FAF8AF" stroke="#3a3a3a" stroke-width="0.5"/>
<rect x="386.84" y="277.16" width="3.78" height="87.34" fill="#BEBADA" stroke="#3a3a3a" stroke-width="0.5"/>
<rect x="390.62" y="335.41" width="3.78" height="29.09" fill="#F9807A" stroke="#3a3a3a" stroke-width="0.5"/>
<rect x="394.40" y="336.98" width="3.78" height="27.52" fill="#72AED2" stroke="#3a3a3a" stroke-width="0.5"/>
<rect x="398.19" y="303.30" width="3.78" height="61.20" fill="#FCB162" stroke="#3a3a3a" stroke-width="0.5"/>
<rect x="412.37" y="266.00" width="3.78" height="98.50" fill="#76CEC4" stroke="#3a3a3a" stroke-width="0.5"/>
<rect x="416.15" y="274.68" width="3.78" height="89.82" fill="#FAF8AF" stroke="#3a3a3a" stroke-width="0.5"/>
<rect x="419.93" y="275.01" width="3.78" height="89.49" fill="#BEBADA" stroke="#3a3a3a" stroke-width="0.5"/>
<rect x="423.71" y="335.52" width="3.78" height="28.98" fill="#F9807A" stroke="#3a3a3a" stroke-width="0.5"/>
<rect x="427.49" y="338.56" width="3.78" height="25.94" fill="#72AED2" stroke="#3a3a3a" stroke-width="0.5"/>
<rect x="431.27" y="297.77" width="3.78" height="66.73" fill="#FCB162" stroke="#3a3a3a" stroke-width="0.5"/>
<rect x="445.45" y="266.00" width="3.78" height="98.50" fill="#76CEC4" stroke="#3a3a3a" stroke-width="0.5"/>
<rect x="449.23" y="277.49" width="3.78" height="87.01" fill="#FAF8AF" stroke="#3a3a3a" stroke-width="0.5"/>
<rect x="453.01" y="273.78" width="3.78" height="90.72" fill="#BEBADA" stroke="#3a3a3a" stroke-width="0.5"/>
<rect x="456.80" y="335.86" width="3.78" height="28.64" fill="#F9807A" stroke="#3a3a3a" stroke-width="0.5"/>
<rect x="460.58" y="339.24" width="3.78" height="25.26" fill="#72AED2" stroke="#3a3a3a" stroke-width="0.5"/>
<rect x="464.36" y="293.49" width="3.78" height="71.01" fill="#FCB162" stroke="#3a3a3a" stroke-width="0.5"/>
<rect x="468.14" y="349.72" width="3.78" height="14.78" fill="#A3D669" stroke="#3a3a3a" stroke-width="0.5"/>
<rect x="478.54" y="266.45" width="3.78" height="98.05" fill="#76CEC4" stroke="#3a3a3a" stroke-width="0.5"/>
<rect x="482.32" y="277.83" width="3.78" height="86.67" fill="#FAF8AF" stroke="#3a3a3a" stroke-width="0.5"/>
<rect x="486.10" y="273.10" width="3.78" height="91.40" fill="#BEBADA" stroke="#3a3a3a" stroke-width="0.5"/>
<rect x="489.88" y="345.43" width="3.78" height="19.07" fill="#F9807A" stroke="#3a3a3a" stroke-width="0.5"/>
<rect x="493.66" y="338.34" width="3.78" height="26.16" fill="#72AED2" stroke="#3a3a3a" stroke-width="0.5"/>
<rect x="497.44" y="291.69" width="3.78" height="72.81" fill="#FCB162" stroke="#3a3a3a" stroke-width="0.5"/>
<rect x="501.22" y="354.00" width="3.78" height="10.50" fill="#A3D669" stroke="#3a3a3a" stroke-width="0.5"/>
<rect x="511.62" y="265.10" width="3.78" height="99.40" fill="#76CEC4" stroke="#3a3a3a" stroke-width="0.5"/>
<rect x="515.40" y="279.30" width="3.78" height="85.20" fill="#FAF8AF" stroke="#3a3a3a" stroke-width="0.5"/>
<rect x="519.19" y="273.10" width="3.78" height="91.40" fill="#BEBADA" stroke="#3a3a3a" stroke-width="0.5"/>
<rect x="522.97" y="348.48" width="3.78" height="16.02" fill="#F9807A" stroke="#3a3a3a" stroke-width="0.5"/>
<rect x="526.75" y="336.08" width="3.78" height="28.42" fill="#72AED2" stroke="#3a3a3a" stroke-width="0.5"/>
<rect x="530.53" y="289.21" width="3.78" height="75.29" fill="#FCB162" stroke="#3a3a3a" stroke-width="0.5"/>
<rect x="534.31" y="344.42" width="3.78" height="20.08" fill="#A3D669" stroke="#3a3a3a" stroke-width="0.5"/>
<rect x="309.8" y="257.1" width="231.60" height="107.40" fill="none" stroke="#666" stroke-width="0.85"/>
<line x1="309.8" y1="364.50" x2="541.4" y2="364.50" stroke="#333" stroke-width="0.8"/>
<line x1="307.20" y1="364.50" x2="309.8" y2="364.50" stroke="#666" stroke-width="0.85"/>
<text x="305.30" y="368.65" transform="rotate(0.04 305.30 368.65)" text-anchor="end">0</text>
<line x1="307.20" y1="336.23" x2="309.8" y2="336.23" stroke="#666" stroke-width="0.85"/>
<text x="305.30" y="340.38" transform="rotate(0.04 305.30 340.38)" text-anchor="end">25</text>
<line x1="307.20" y1="308.06" x2="309.8" y2="308.06" stroke="#666" stroke-width="0.85"/>
<text x="305.30" y="312.21" transform="rotate(0.04 305.30 312.21)" text-anchor="end">50</text>
<line x1="307.20" y1="279.90" x2="309.8" y2="279.90" stroke="#666" stroke-width="0.85"/>
<text x="305.30" y="284.05" transform="rotate(0.04 305.30 284.05)" text-anchor="end">75</text>
<line x1="326.34" y1="364.5" x2="326.34" y2="367.10" stroke="#666" stroke-width="0.85"/>
<text x="326.04" y="377.20" transform="rotate(0.04 326.34 377.20)" text-anchor="middle">1990</text>
<line x1="359.43" y1="364.5" x2="359.43" y2="367.10" stroke="#666" stroke-width="0.85"/>
<text x="359.13" y="377.20" transform="rotate(0.04 359.43 377.20)" text-anchor="middle">1995</text>
<line x1="392.51" y1="364.5" x2="392.51" y2="367.10" stroke="#666" stroke-width="0.85"/>
<text x="392.21" y="377.20" transform="rotate(0.04 392.51 377.20)" text-anchor="middle">2000</text>
<line x1="425.60" y1="364.5" x2="425.60" y2="367.10" stroke="#666" stroke-width="0.85"/>
<text x="425.30" y="377.20" transform="rotate(0.04 425.60 377.20)" text-anchor="middle">2005</text>
<line x1="458.69" y1="364.5" x2="458.69" y2="367.10" stroke="#666" stroke-width="0.85"/>
<text x="458.39" y="377.20" transform="rotate(0.04 458.69 377.20)" text-anchor="middle">2010</text>
<line x1="491.77" y1="364.5" x2="491.77" y2="367.10" stroke="#666" stroke-width="0.85"/>
<text x="491.47" y="377.20" transform="rotate(0.04 491.77 377.20)" text-anchor="middle">2015</text>
<line x1="524.86" y1="364.5" x2="524.86" y2="367.10" stroke="#666" stroke-width="0.85"/>
<text x="524.56" y="377.20" transform="rotate(0.04 524.86 377.20)" text-anchor="middle">2020</text>
<text transform="translate(288.4,311.15) rotate(-89.96)" text-anchor="middle">AI</text>
</g>
<rect x="21.4" y="390.9" width="14.2" height="8.3" fill="#76CEC4" stroke="#3a3a3a" stroke-width="0.6"/>
<text x="38.35" y="398.8" transform="rotate(0.04 38.70 398.8)" font-size="11.62">Forest</text>
<rect x="74.3" y="390.9" width="14.2" height="8.3" fill="#FAF8AF" stroke="#3a3a3a" stroke-width="0.6"/>
<text x="90.75" y="398.8" transform="rotate(0.04 91.10 398.8)" font-size="11.62" textLength="80.9" lengthAdjust="spacing">Agricultural land</text>
<rect x="178.6" y="390.9" width="14.2" height="8.3" fill="#BEBADA" stroke="#3a3a3a" stroke-width="0.6"/>
<text x="195.35" y="398.8" transform="rotate(0.04 195.70 398.8)" font-size="11.62">Water body</text>
<rect x="256.2" y="390.9" width="14.2" height="8.3" fill="#F9807A" stroke="#3a3a3a" stroke-width="0.6"/>
<text x="272.55" y="398.8" transform="rotate(0.04 272.90 398.8)" font-size="11.62">Shrub</text>
<rect x="307.4" y="390.9" width="14.2" height="8.3" fill="#72AED2" stroke="#3a3a3a" stroke-width="0.6"/>
<text x="323.95" y="398.8" transform="rotate(0.04 324.30 398.8)" font-size="11.62">Grassland</text>
<rect x="378.0" y="390.9" width="14.2" height="8.3" fill="#FCB162" stroke="#3a3a3a" stroke-width="0.6"/>
<text x="394.55" y="398.8" transform="rotate(0.04 394.90 398.8)" font-size="11.62" textLength="83.6" lengthAdjust="spacing">Construction land</text>
<rect x="485.1" y="390.9" width="14.2" height="8.3" fill="#A3D669" stroke="#3a3a3a" stroke-width="0.6"/>
<text x="502.15" y="398.8" transform="rotate(0.04 502.50 398.8)" font-size="11.62">Bare land</text>
</svg>
</body></html>
